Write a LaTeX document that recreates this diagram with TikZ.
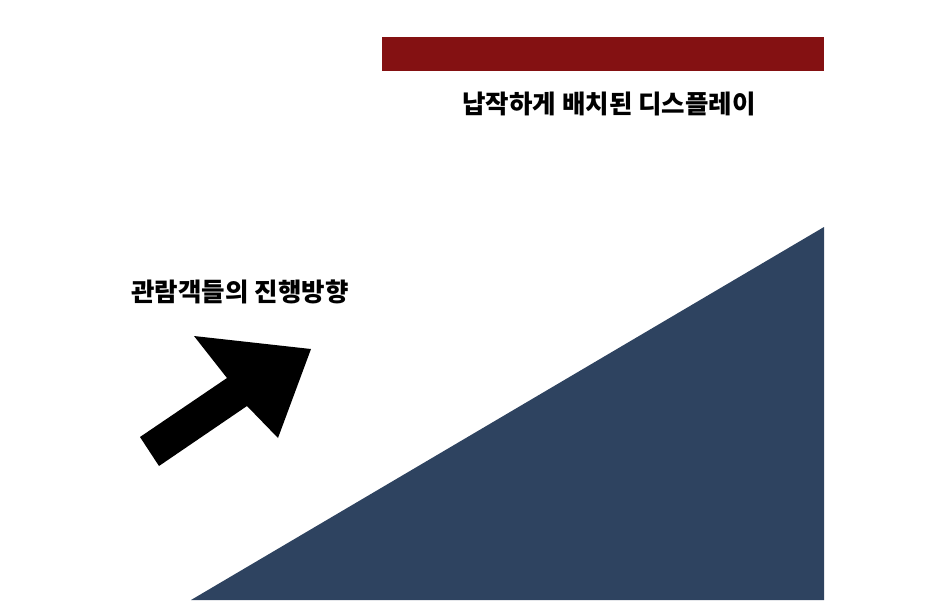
\documentclass[tikz,border=0pt]{standalone}
\usepackage{fontspec}
\usepackage{xcolor}
\usepackage{tikz}
\newfontfamily\kr{Noto Sans CJK KR}
\definecolor{bannerred}{HTML}{841112}
\definecolor{floorblue}{HTML}{2E4360}
\tikzset{
  banner/.style={fill=bannerred, draw=none},
  floor/.style={fill=floorblue, draw=none},
  bigarrow/.style={fill=black, draw=none},
  lab/.style={text=black, font=\kr\bfseries\fontsize{25.5}{30}\selectfont, inner sep=0pt}
}
\begin{document}
\begin{tikzpicture}[x=1pt,y=-1pt]
  \useasboundingbox (0,0) rectangle (940,600);

  % flat display bar and its caption
  \fill[banner] (382,37) rectangle (824,71);
  \node[lab] (disp) at (609,104) {납작하게 배치된 디스플레이};

  % floor wedge
  \fill[floor] (191,600) -- (824,227) -- (824,600) -- cycle;

  % walking direction
  \node[lab] (walk) at (240,292) {관람객들의 진행방향};
  \fill[bigarrow] (140,437) -- (227,378) -- (194,336) -- (311,349)
    -- (278,438) -- (247,406) -- (159,466) -- cycle;
\end{tikzpicture}
\end{document}
